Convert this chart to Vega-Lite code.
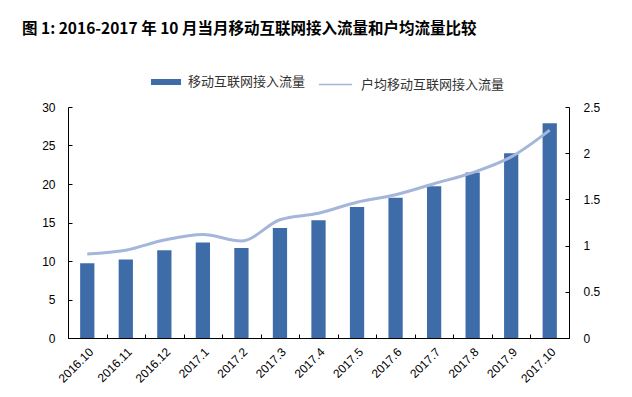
{
  "$schema": "https://vega.github.io/schema/vega-lite/v6.json",
  "width": 501,
  "height": 231,
  "autosize": {"type": "none"},
  "padding": {"left": 68, "top": 107, "right": 63, "bottom": 59},
  "background": "white",
  "config": {
    "view": {"stroke": null},
    "font": "Liberation Sans",
    "axis": {"grid": false, "domainColor": "#000", "tickColor": "#000", "labelColor": "#000", "labelFontSize": 11, "labelFont": "Liberation Sans", "title": null}
  },
  "title": {
    "text": "图 1:  2016-2017 年 10 月当月移动互联网接入流量和户均流量比较",
    "anchor": "start",
    "frame": "group",
    "dx": -46,
    "offset": 30,
    "fontSize": 15.5,
    "font": "Noto Sans CJK SC",
    "fontWeight": "bold",
    "color": "#000"
  },
  "data": {
    "values": [
      {"month": "2016.10", "flow": 9.7, "avg": 0.91},
      {"month": "2016.11", "flow": 10.2, "avg": 0.95},
      {"month": "2016.12", "flow": 11.4, "avg": 1.06},
      {"month": "2017.1", "flow": 12.4, "avg": 1.12},
      {"month": "2017.2", "flow": 11.7, "avg": 1.05},
      {"month": "2017.3", "flow": 14.3, "avg": 1.28},
      {"month": "2017.4", "flow": 15.3, "avg": 1.35},
      {"month": "2017.5", "flow": 17.0, "avg": 1.47},
      {"month": "2017.6", "flow": 18.2, "avg": 1.55},
      {"month": "2017.7", "flow": 19.7, "avg": 1.67},
      {"month": "2017.8", "flow": 21.5, "avg": 1.79},
      {"month": "2017.9", "flow": 24.0, "avg": 1.96},
      {"month": "2017.10", "flow": 27.9, "avg": 2.25}
    ]
  },
  "encoding": {
    "x": {
      "field": "month",
      "type": "ordinal",
      "sort": null,
      "scale": {"paddingInner": 0, "paddingOuter": 0},
      "axis": {"labelAngle": -45, "tickBand": "extent", "tickSize": -4, "labelPadding": 12, "labelFontSize": 12}
    }
  },
  "layer": [
    {
      "mark": {"type": "bar", "width": {"band": 0.37}},
      "encoding": {
        "y": {
          "field": "flow",
          "type": "quantitative",
          "scale": {"domain": [0, 30], "nice": false},
          "axis": {"values": [0, 5, 10, 15, 20, 25, 30], "tickSize": -4, "labelPadding": 17, "labelFontSize": 12}
        },
        "fill": {
          "datum": "移动互联网接入流量",
          "type": "nominal",
          "scale": {"range": ["#3e6ca9"]},
          "legend": {
            "orient": "none",
            "legendX": 83,
            "legendY": -40,
            "title": null,
            "direction": "horizontal",
            "symbolType": "M-1,-0.2H1V0.2H-1Z",
            "symbolSize": 900,
            "symbolStrokeWidth": 0,
            "labelFont": "Noto Sans CJK SC",
            "labelFontSize": 13,
            "labelOffset": 7,
            "labelColor": "#333"
          }
        }
      }
    },
    {
      "mark": {"type": "line", "strokeWidth": 3, "interpolate": "monotone"},
      "encoding": {
        "y": {
          "field": "avg",
          "type": "quantitative",
          "scale": {"domain": [0, 2.5], "nice": false},
          "axis": {"orient": "right", "values": [0, 0.5, 1, 1.5, 2, 2.5], "labelExpr": "datum.value + ''", "tickSize": -4, "labelPadding": 18, "labelFontSize": 12}
        },
        "stroke": {
          "datum": "户均移动互联网接入流量",
          "type": "nominal",
          "scale": {"range": ["#a4b6d9"]},
          "legend": {
            "orient": "none",
            "legendX": 250,
            "legendY": -40,
            "title": null,
            "direction": "horizontal",
            "symbolType": "stroke",
            "symbolSize": 1100,
            "symbolStrokeWidth": 1.5,
            "labelFont": "Noto Sans CJK SC",
            "labelFontSize": 13,
            "labelOffset": 8,
            "labelColor": "#333"
          }
        }
      }
    }
  ],
  "resolve": {"scale": {"y": "independent", "fill": "independent", "stroke": "independent"}}
}
